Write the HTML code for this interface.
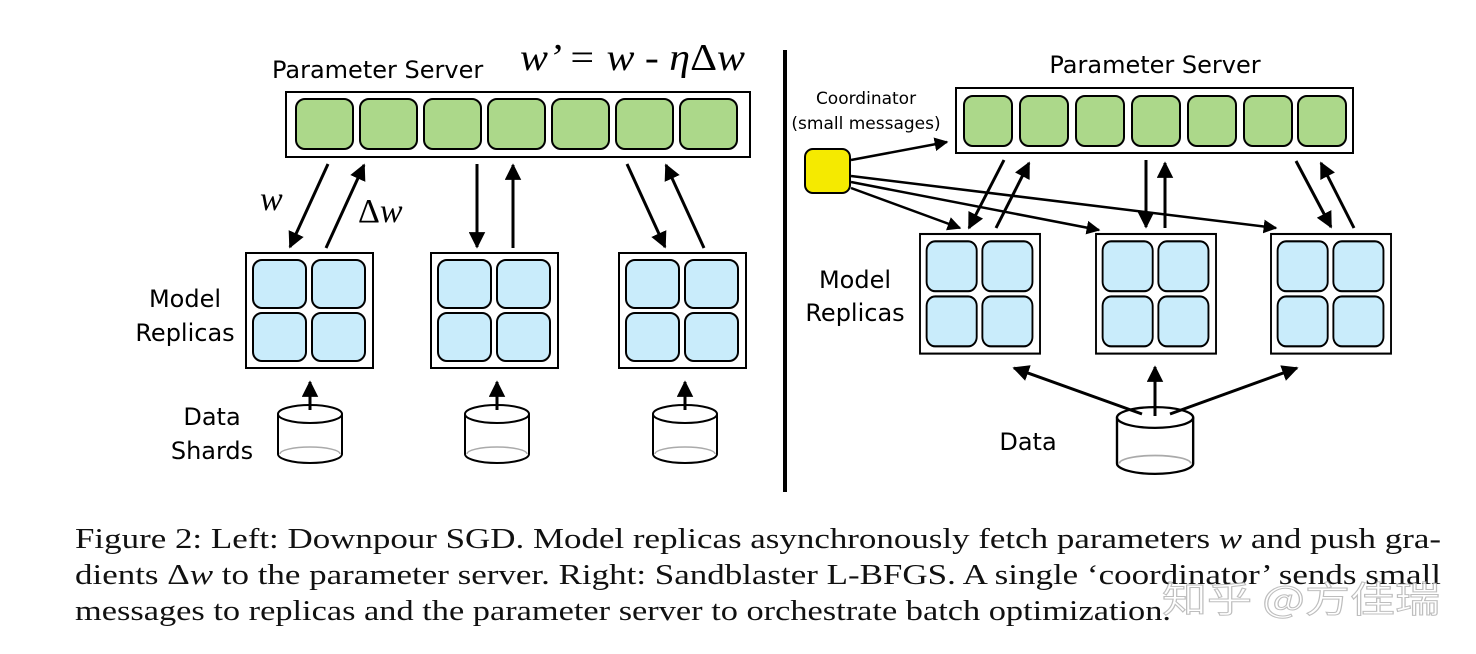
<!DOCTYPE html>
<html><head><meta charset="utf-8"><style>
html,body{margin:0;padding:0;background:#fff;}
svg{display:block;}
.s{font-family:"DejaVu Sans","Liberation Sans",sans-serif;}
.m{font-family:"Liberation Serif",serif;font-style:italic;}
.c{font-family:"Liberation Serif",serif;font-size:29px;fill:#111;}
</style></head><body>
<svg width="1476" height="654" viewBox="0 0 1476 654" xmlns="http://www.w3.org/2000/svg">
<defs>
<marker id="a" viewBox="0 0 10 10" refX="9" refY="5" markerWidth="5.5" markerHeight="5.5" orient="auto"><path d="M0,0 L10,5 L0,10 z" fill="#000"/></marker>
<g id="rep">
<rect x="0" y="0" width="127" height="115" fill="#fff" stroke="#000" stroke-width="2"/>
<rect x="7" y="7" width="53" height="48" rx="9" fill="#c9ecfb" stroke="#000" stroke-width="2"/>
<rect x="66" y="7" width="53" height="48" rx="9" fill="#c9ecfb" stroke="#000" stroke-width="2"/>
<rect x="7" y="60" width="53" height="48" rx="9" fill="#c9ecfb" stroke="#000" stroke-width="2"/>
<rect x="66" y="60" width="53" height="48" rx="9" fill="#c9ecfb" stroke="#000" stroke-width="2"/>
</g>
<g id="cyl">
<path d="M0,10 L0,50 A32,9 0 0 0 64,50 L64,10" fill="#fff" stroke="#000" stroke-width="2"/>
<ellipse cx="32" cy="10" rx="32" ry="9" fill="#fff" stroke="#000" stroke-width="2"/>
<path d="M2,50 A30,7 0 0 1 62,50" fill="none" stroke="#aaa" stroke-width="1.5"/>
</g>
</defs>

<!-- LEFT -->
<text x="272" y="78" class="s" font-size="24">Parameter Server</text>
<text x="520" y="70" class="m" font-size="38" textLength="225" lengthAdjust="spacingAndGlyphs">w’ = w - η<tspan font-style="normal">Δ</tspan>w</text>
<rect x="286" y="92" width="464" height="65" fill="#fff" stroke="#000" stroke-width="2"/>
<g fill="#acd88a" stroke="#000" stroke-width="2">
<rect x="296" y="99" width="57" height="50" rx="9"/><rect x="360" y="99" width="57" height="50" rx="9"/>
<rect x="424" y="99" width="57" height="50" rx="9"/><rect x="488" y="99" width="57" height="50" rx="9"/>
<rect x="552" y="99" width="57" height="50" rx="9"/><rect x="616" y="99" width="57" height="50" rx="9"/>
<rect x="680" y="99" width="57" height="50" rx="9"/>
</g>
<g stroke="#000" stroke-width="3" marker-end="url(#a)" fill="none">
<line x1="328" y1="164" x2="290" y2="247"/>
<line x1="326" y1="248" x2="364" y2="165"/>
<line x1="477" y1="164" x2="477" y2="247"/>
<line x1="513" y1="248" x2="513" y2="165"/>
<line x1="627" y1="164" x2="665" y2="247"/>
<line x1="704" y1="248" x2="666" y2="165"/>
</g>
<text x="260" y="210" class="m" font-size="34">w</text>
<text x="358" y="222" class="m" font-size="34"><tspan font-style="normal">Δ</tspan>w</text>
<use href="#rep" x="246" y="253"/>
<use href="#rep" x="431" y="253"/>
<use href="#rep" x="619" y="253"/>
<text x="185" y="307" class="s" font-size="24" text-anchor="middle">Model</text>
<text x="185" y="341" class="s" font-size="24" text-anchor="middle">Replicas</text>
<text x="212" y="425" class="s" font-size="24" text-anchor="middle">Data</text>
<text x="212" y="459" class="s" font-size="24" text-anchor="middle">Shards</text>
<use href="#cyl" x="278" y="404"/>
<use href="#cyl" x="465" y="404"/>
<use href="#cyl" x="653" y="404"/>
<g stroke="#000" stroke-width="3" marker-end="url(#a)">
<line x1="310" y1="410" x2="310" y2="382"/>
<line x1="497" y1="410" x2="497" y2="382"/>
<line x1="685" y1="410" x2="685" y2="382"/>
</g>

<line x1="785" y1="50" x2="785" y2="492" stroke="#000" stroke-width="4"/>

<!-- RIGHT -->
<text x="1155" y="73" class="s" font-size="24" text-anchor="middle">Parameter Server</text>
<text x="866" y="104" class="s" font-size="17" text-anchor="middle">Coordinator</text>
<text x="866" y="129" class="s" font-size="17" text-anchor="middle">(small messages)</text>
<rect x="956" y="88" width="397" height="65" fill="#fff" stroke="#000" stroke-width="2"/>
<g fill="#acd88a" stroke="#000" stroke-width="2">
<rect x="964" y="96" width="48" height="50" rx="9"/><rect x="1020" y="96" width="48" height="50" rx="9"/>
<rect x="1076" y="96" width="48" height="50" rx="9"/><rect x="1132" y="96" width="48" height="50" rx="9"/>
<rect x="1188" y="96" width="48" height="50" rx="9"/><rect x="1244" y="96" width="48" height="50" rx="9"/>
<rect x="1298" y="96" width="48" height="50" rx="9"/>
</g>
<rect x="805" y="149" width="45" height="44" rx="8" fill="#f5ea00" stroke="#000" stroke-width="2"/>
<g stroke="#000" stroke-width="2.5" marker-end="url(#a)" fill="none">
<line x1="851" y1="160" x2="947" y2="142"/>
<line x1="851" y1="182" x2="1099" y2="230"/>
<line x1="851" y1="176" x2="1276" y2="228"/>
<line x1="851" y1="188" x2="960" y2="228"/>
</g>
<g stroke="#000" stroke-width="3" marker-end="url(#a)" fill="none">
<line x1="1004" y1="160" x2="969" y2="228"/>
<line x1="996" y1="228" x2="1029" y2="163"/>
<line x1="1146" y1="160" x2="1146" y2="227"/>
<line x1="1165" y1="228" x2="1165" y2="163"/>
<line x1="1296" y1="161" x2="1331" y2="227"/>
<line x1="1354" y1="228" x2="1321" y2="163"/>
</g>
<use href="#rep" x="920" y="234" transform="translate(920 234) scale(0.945 1.04) translate(-920 -234)"/>
<use href="#rep" x="1096" y="234" transform="translate(1096 234) scale(0.945 1.04) translate(-1096 -234)"/>
<use href="#rep" x="1271" y="234" transform="translate(1271 234) scale(0.945 1.04) translate(-1271 -234)"/>
<text x="855" y="288" class="s" font-size="24" text-anchor="middle">Model</text>
<text x="855" y="321" class="s" font-size="24" text-anchor="middle">Replicas</text>
<text x="1028" y="450" class="s" font-size="24" text-anchor="middle">Data</text>
<use href="#cyl" x="0" y="0" transform="translate(1117 406) scale(1.19 1.15)"/>
<g stroke="#000" stroke-width="3" marker-end="url(#a)" fill="none">
<line x1="1142" y1="414" x2="1014" y2="368"/>
<line x1="1155" y1="416" x2="1155" y2="367"/>
<line x1="1170" y1="414" x2="1297" y2="368"/>
</g>

<!-- caption -->
<text x="75" y="548" class="c" textLength="1366" lengthAdjust="spacingAndGlyphs">Figure 2: Left: Downpour SGD. Model replicas asynchronously fetch parameters <tspan font-style="italic">w</tspan> and push gra-</text>
<text x="75" y="584" class="c" textLength="1366" lengthAdjust="spacingAndGlyphs">dients Δ<tspan font-style="italic">w</tspan> to the parameter server. Right: Sandblaster L-BFGS. A single ‘coordinator’ sends small</text>
<text x="75" y="620" class="c" textLength="1096" lengthAdjust="spacingAndGlyphs">messages to replicas and the parameter server to orchestrate batch optimization.</text>
<text x="1162" y="612" font-family="'Noto Sans CJK SC',sans-serif" font-size="36" fill="#fff" fill-opacity="0.8" stroke="#888" stroke-opacity="0.55" stroke-width="1" textLength="278" lengthAdjust="spacingAndGlyphs">知乎 @方佳瑞</text>
</svg>
</body></html>
